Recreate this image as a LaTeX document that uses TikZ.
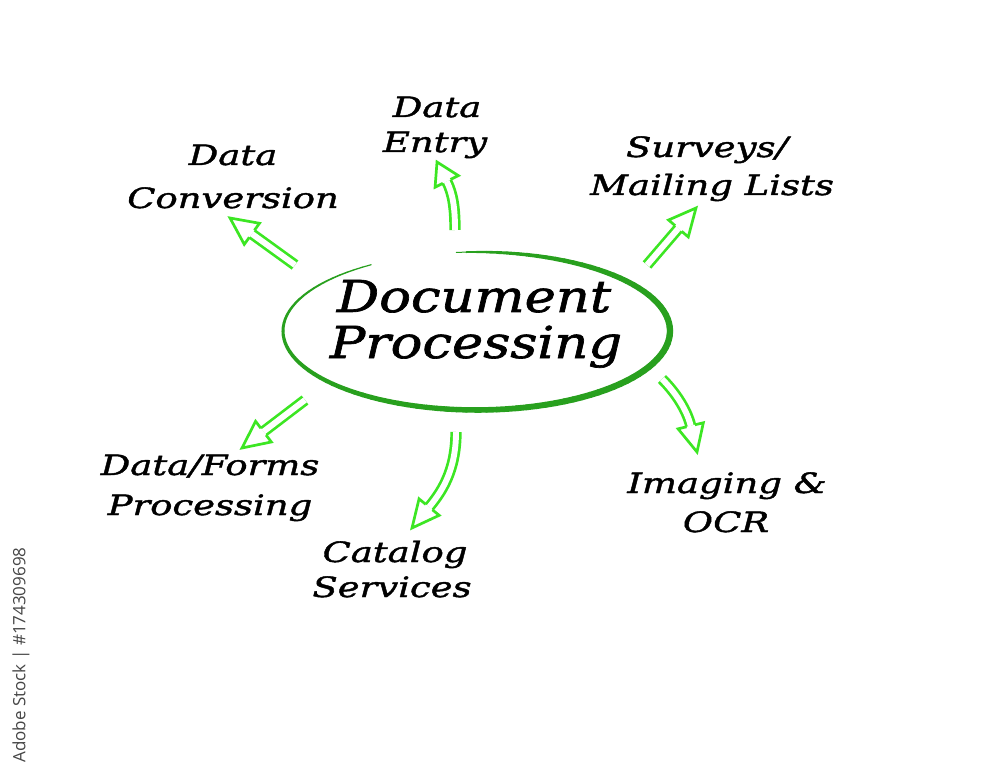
\documentclass[tikz,border=0pt]{standalone}
\usepackage{fontspec}
\usetikzlibrary{calc}
\newfontfamily\hand{DejaVu Serif}[FakeStretch=1.32, FakeBold=1.5]
\newfontfamily\handt{DejaVu Serif}[FakeStretch=1.2, FakeBold=1.5]
\newfontfamily\wmfont{Open Sans}
\definecolor{ellgreen}{RGB}{40,160,30}
\definecolor{arrgreen}{RGB}{60,230,35}
\definecolor{wmgray}{RGB}{70,70,70}
\newcommand\hhead[2]{%
  \draw[arrhead] ($(#1)!4.3pt!90:(#2)$) -- ($(#1)!13pt!90:(#2)$) -- (#2)
    -- ($(#1)!13pt!-90:(#2)$) -- ($(#1)!4.3pt!-90:(#2)$);}
\begin{document}
\begin{tikzpicture}[x=1pt,y=-1pt,
  lbl/.style={inner sep=0pt, anchor=base, font=\hand\itshape\fontsize{28}{34}\selectfont},
  ttl/.style={inner sep=0pt, anchor=base, font=\handt\itshape\fontsize{44}{50}\selectfont},
  shaft/.style={draw=arrgreen, line width=2.7pt, double=white, double distance=5.9pt},
  arrhead/.style={draw=arrgreen, line width=2.7pt, line join=miter, fill=white},
]
\useasboundingbox[fill=white] (0,0) rectangle (1000,783);

% central ellipse (hand-drawn, tapered stroke)
\foreach \t in {-96,-93,...,236} {
  \pgfmathsetmacro\s{(\t+96)/335}
  \pgfmathsetmacro\w{1+5.4*sin(180*(\s^0.65))}
  \draw[ellgreen, line width=\w pt, line cap=round]
    ({476.5+193.5*cos(\t)},{331+79*sin(\t)}) -- ({476.5+193.5*cos(\t+3)},{331+79*sin(\t+3)});
}
\node[ttl] (doc1) at (474,312) {Document};
\node[ttl] (doc2) at (476,358) {Processing};

% labels
\node[lbl] (dc1) at (233,165) {Data};
\node[lbl] (dc2) at (233,208) {Conversion};
\node[lbl] (de1) at (437,117) {Data};
\node[lbl] (de2) at (435,152) {Entry};
\node[lbl] (sm1) at (707,157) {Surveys/};
\node[lbl] (sm2) at (712,195) {Mailing Lists};
\node[lbl] (df1) at (210,475) {Data/Forms};
\node[lbl] (df2) at (210,515) {Processing};
\node[lbl] (cs1) at (395,562) {Catalog};
\node[lbl] (cs2) at (392,597) {Services};
\node[lbl] (io1) at (727,493) {Imaging \&};
\node[lbl] (io2) at (726,532) {OCR};

% arrow end points
\coordinate (dc-t) at (295,265);  \coordinate (dc-tip) at (230,218);
\coordinate (sm-t) at (647,265);  \coordinate (sm-tip) at (696,208);
\coordinate (df-t) at (305,400);  \coordinate (df-tip) at (242,448);
\coordinate (de-t) at (455,230);  \coordinate (de-tip) at (437,162);
\coordinate (cs-t) at (456,432);  \coordinate (cs-tip) at (412,528);
\coordinate (io-t) at (662,379);  \coordinate (io-tip) at (697,452);
% head bases
\coordinate (dc-b) at ($(dc-tip)!27pt!(dc-t)$);
\coordinate (sm-b) at ($(sm-tip)!27pt!(sm-t)$);
\coordinate (df-b) at ($(df-tip)!27pt!(df-t)$);
\coordinate (de-b) at ($(de-tip)+(9.7,19.4)$);
\coordinate (cs-b) at ($(cs-tip)+(17.1,-20.9)$);
\coordinate (io-b) at ($(io-tip)+(-6.3,-26.2)$);

% straight arrows
\draw[shaft] (dc-t) -- (dc-b); \hhead{dc-b}{dc-tip}
\draw[shaft] (sm-t) -- (sm-b); \hhead{sm-b}{sm-tip}
\draw[shaft] (df-t) -- (df-b); \hhead{df-b}{df-tip}
% curved arrows
\draw[shaft] (de-t) .. controls ($(de-t)+(0,-22)$) and ($(de-b)!-14pt!(de-tip)$) .. (de-b);
\hhead{de-b}{de-tip}
\draw[shaft] (cs-t) .. controls ($(cs-t)+(0,40)$) and ($(cs-b)!-18pt!(cs-tip)$) .. (cs-b);
\hhead{cs-b}{cs-tip}
\draw[shaft] (io-t) .. controls ($(io-t)+(14,14)$) and ($(io-b)!-16pt!(io-tip)$) .. (io-b);
\hhead{io-b}{io-tip}

% stock watermark
\node[rotate=90, inner sep=0pt, font=\wmfont\fontsize{17}{20}\selectfont, text=wmgray] (wm) at (21,655) {Adobe Stock | \#174309698};
\end{tikzpicture}
\end{document}
